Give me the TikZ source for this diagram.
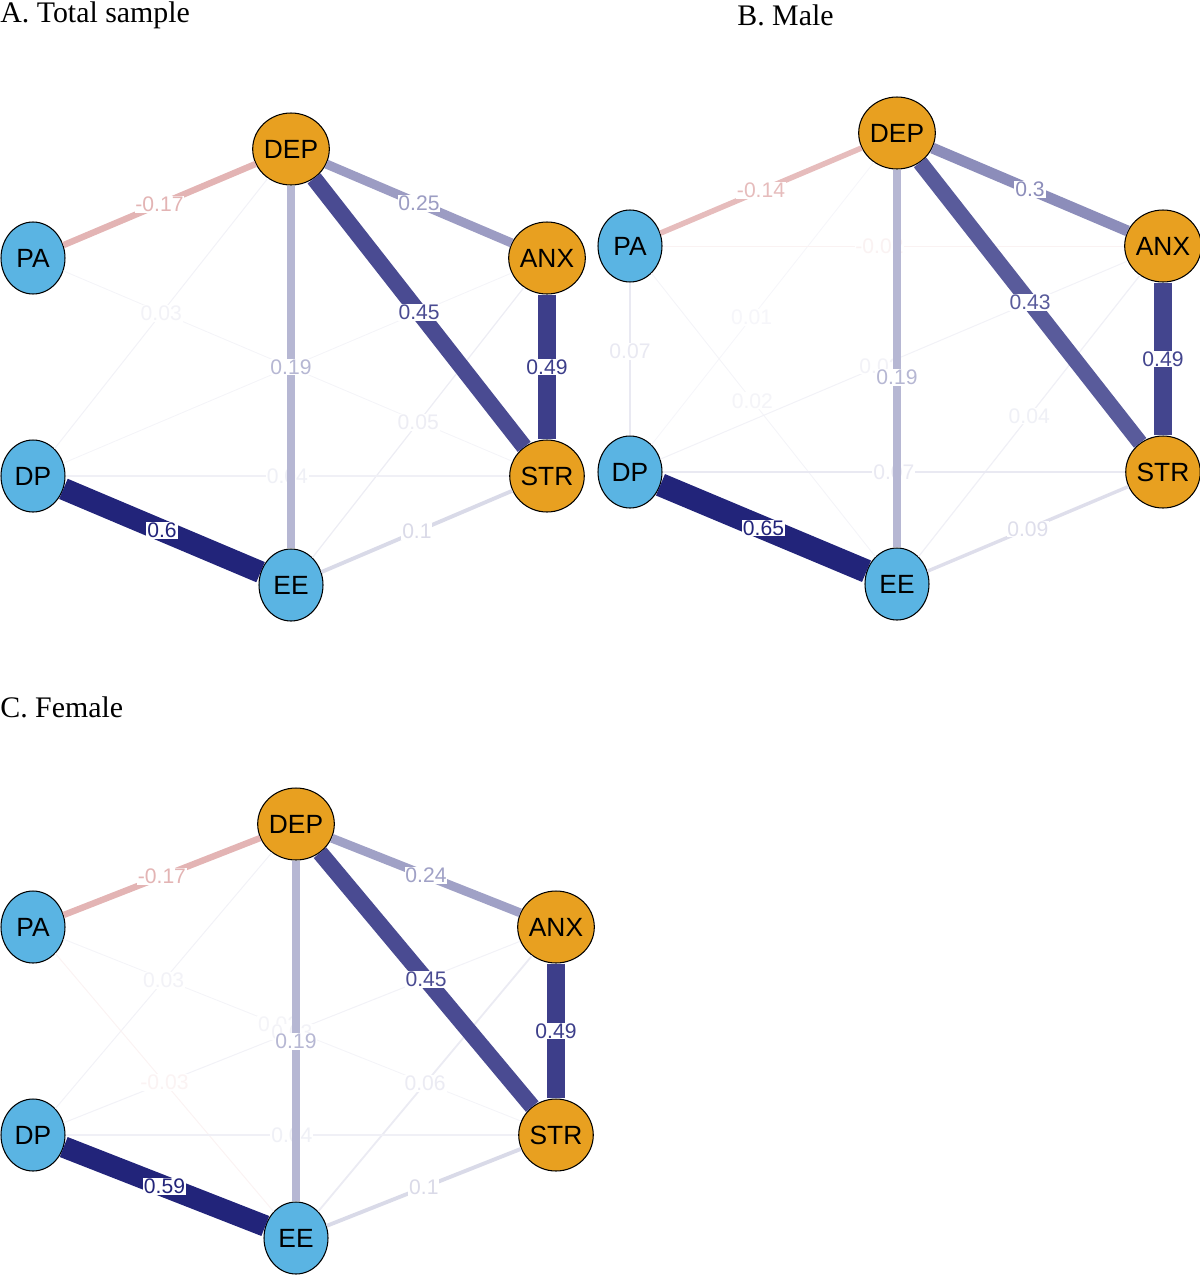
\documentclass[tikz,border=0pt]{standalone}
\usepackage{fontspec}
\setmainfont{Liberation Serif}
\newfontfamily\arialf{Liberation Sans}
\usetikzlibrary{shapes.geometric}
\definecolor{eb}{HTML}{22247A}
\definecolor{er}{HTML}{C05858}
\definecolor{nblue}{HTML}{5AB4E3}
\definecolor{norange}{HTML}{E8A020}
\tikzset{
 nd/.style={ellipse,draw=black,line width=0.6pt,minimum width=1.28cm,minimum height=1.44cm,inner sep=0pt,font=\arialf\fontsize{15}{15}\selectfont},
 bn/.style={nd,fill=nblue},
 on/.style={nd,fill=norange},
 lab/.style={fill=white,inner sep=0.5pt,font=\arialf\fontsize{12}{12}\selectfont},
 ttl/.style={anchor=west,font=\fontsize{17}{17}\selectfont,inner sep=0pt}
}
% #1 from, #2 to, #3 width pt, #4 color, #5 label, #6 pos
\newcommand\ed[6]{\draw[line width=1.3*#3pt,draw=#4] (#1) -- (#2) node[lab,text=#4,pos=#6]{#5};}
\newcommand\en[4]{\draw[line width=#3pt,draw=#4] (#1) -- (#2);}
\begin{document}
\begin{tikzpicture}[x=0.02cm,y=-0.02cm]
\useasboundingbox (0,0) rectangle (1200,1275);
\node[ttl] at (0,15) {A. Total sample};
\node[ttl] at (737,15) {B. Male};
\node[ttl] at (0,707) {C. Female};
% Panel A
\node[bn] (aPA) at (33,258) {PA};
\node[on] (aDEP) at (291,149) {DEP};
\node[on] (aANX) at (547,258) {ANX};
\node[bn] (aDP) at (33,476) {DP};
\node[on] (aSTR) at (547,476) {STR};
\node[bn] (aEE) at (291,585) {EE};
\en{aPA}{aSTR}{0.5}{eb!5!white}
\en{aDP}{aANX}{0.5}{eb!5!white}
\ed{aDP}{aDEP}{0.45}{eb!6!white}{0.03}{0.5}
\ed{aEE}{aANX}{0.55}{eb!8!white}{0.05}{0.5}
\ed{aDP}{aSTR}{0.6}{eb!7!white}{0.04}{0.5}
\ed{aEE}{aSTR}{1.7}{eb!17!white}{0.1}{0.5}
\ed{aDEP}{aEE}{3.2}{eb!33!white}{0.19}{0.5}
\ed{aPA}{aDEP}{2.8}{er!45!white}{-0.17}{0.5}
\ed{aDEP}{aANX}{4.0}{eb!45!white}{0.25}{0.5}
\ed{aDEP}{aSTR}{7.2}{eb!82!white}{0.45}{0.5}
\ed{aANX}{aSTR}{7.8}{eb!88!white}{0.49}{0.5}
\ed{aDP}{aEE}{9.6}{eb}{0.6}{0.5}
% Panel B
\node[bn] (bPA) at (630,246) {PA};
\node[on] (bDEP) at (897,133) {DEP};
\node[on] (bANX) at (1163,246) {ANX};
\node[bn] (bDP) at (630,472) {DP};
\node[on] (bSTR) at (1163,472) {STR};
\node[bn] (bEE) at (897,584) {EE};
\ed{bDP}{bDEP}{0.4}{eb!4!white}{0.01}{0.45}
\ed{bPA}{bEE}{0.4}{eb!5!white}{0.02}{0.45}
\ed{bPA}{bANX}{0.4}{er!8!white}{-0.02}{0.47}
\ed{bDP}{bANX}{0.45}{eb!6!white}{0.03}{0.47}
\ed{bEE}{bANX}{0.55}{eb!7!white}{0.04}{0.5}
\ed{bPA}{bDP}{1.1}{eb!10!white}{0.07}{0.45}
\ed{bDP}{bSTR}{1.1}{eb!10!white}{0.07}{0.5}
\ed{bEE}{bSTR}{1.5}{eb!15!white}{0.09}{0.5}
\ed{bDEP}{bEE}{3.2}{eb!33!white}{0.19}{0.55}
\ed{bPA}{bDEP}{2.4}{er!40!white}{-0.14}{0.5}
\ed{bDEP}{bANX}{4.8}{eb!52!white}{0.3}{0.5}
\ed{bDEP}{bSTR}{6.9}{eb!75!white}{0.43}{0.5}
\ed{bANX}{bSTR}{7.8}{eb!85!white}{0.49}{0.5}
\ed{bDP}{bEE}{10.2}{eb}{0.65}{0.5}
% Panel C
\node[bn] (cPA) at (33,927) {PA};
\node[on] (cDEP) at (296,824) {DEP};
\node[on] (cANX) at (556,927) {ANX};
\node[bn] (cDP) at (33,1135) {DP};
\node[on] (cSTR) at (556,1135) {STR};
\node[bn] (cEE) at (296,1238) {EE};
\ed{cPA}{cSTR}{0.4}{eb!5!white}{0.02}{0.47}
\ed{cDP}{cANX}{0.45}{eb!6!white}{0.03}{0.5}
\ed{cDP}{cDEP}{0.45}{eb!6!white}{0.03}{0.5}
\ed{cPA}{cEE}{0.45}{er!7!white}{-0.03}{0.5}
\ed{cEE}{cANX}{0.8}{eb!9!white}{0.06}{0.5}
\ed{cDP}{cSTR}{0.6}{eb!7!white}{0.04}{0.5}
\ed{cEE}{cSTR}{1.7}{eb!17!white}{0.1}{0.5}
\ed{cDEP}{cEE}{3.2}{eb!33!white}{0.19}{0.53}
\ed{cPA}{cDEP}{2.8}{er!45!white}{-0.17}{0.5}
\ed{cDEP}{cANX}{3.9}{eb!43!white}{0.24}{0.5}
\ed{cDEP}{cSTR}{7.2}{eb!82!white}{0.45}{0.5}
\ed{cANX}{cSTR}{7.8}{eb!88!white}{0.49}{0.5}
\ed{cDP}{cEE}{9.4}{eb}{0.59}{0.5}
\end{tikzpicture}
\end{document}
